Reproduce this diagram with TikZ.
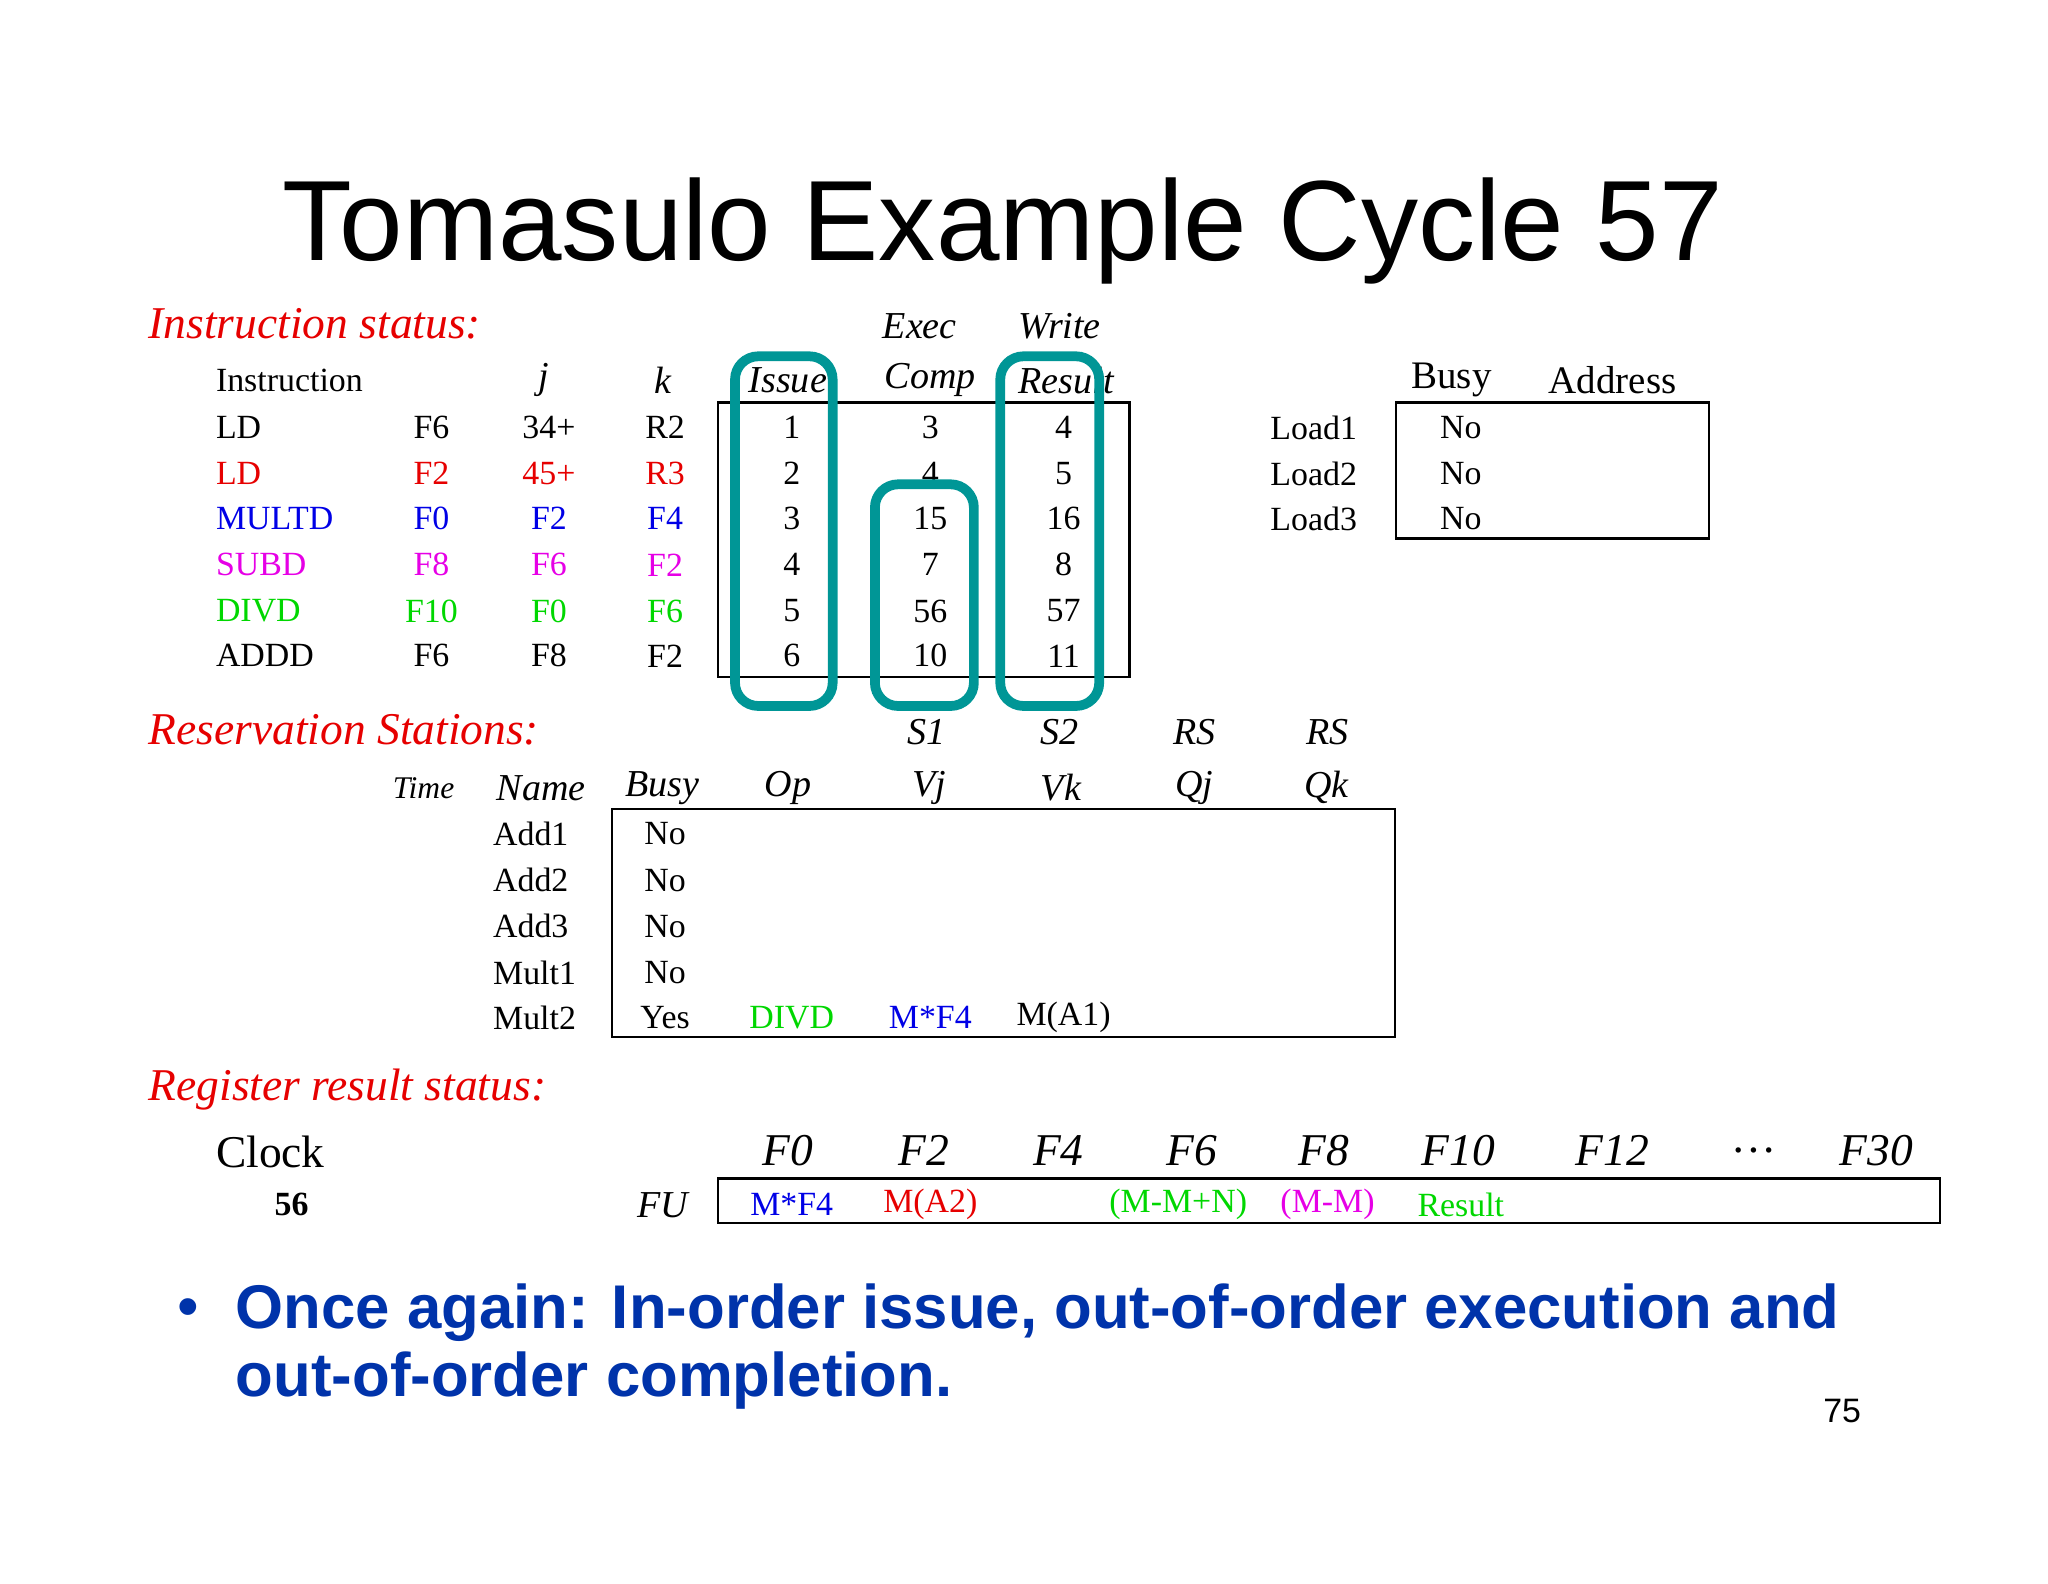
\documentclass[tikz,border=0pt]{standalone}
\usepackage{fontspec}
\setmainfont{Liberation Serif}
\newfontfamily\arialf{Liberation Sans}
\definecolor{rd}{RGB}{230,0,0}
\definecolor{bl}{RGB}{0,0,230}
\definecolor{mg}{RGB}{230,0,230}
\definecolor{gr}{RGB}{0,215,0}
\definecolor{tl}{RGB}{0,150,150}
\definecolor{bb}{RGB}{0,51,170}
\begin{document}
\begin{tikzpicture}[x=0.01cm,y=-0.01cm,
 t/.style={inner sep=0,font=\fontsize{7.3}{8}\selectfont},
 tl/.style={t,anchor=west},
 hd/.style={inner sep=0,font=\fontsize{8.2}{9}\selectfont\itshape},
 sec/.style={inner sep=0,anchor=west,text=rd,font=\fontsize{9.8}{11}\selectfont\itshape},
 big/.style={inner sep=0,font=\fontsize{9.8}{11}\selectfont\itshape},
 tbox/.style={draw,line width=0.5pt},
 hl/.style={draw=tl,line width=2.1pt,rounded corners=5pt}]
\useasboundingbox (0,0) rectangle (1552,1200);
\node[inner sep=0,font=\arialf\fontsize{24.6}{28}\selectfont] (title) at (760,175) {Tomasulo Example Cycle 57};
% instruction status
\node[sec] (is) at (112,245) {Instruction status:};
\node[hd] (ex) at (697,247) {Exec};
\node[hd] (wr) at (803,247) {Write};
\node[tl] (hi) at (163,288) {Instruction};
\node[hd] (hj) at (412,288) {j};
\node[hd] (hk) at (502,288) {k};
\node[hd] (hiss) at (597,288) {Issue};
\node[hd] (hc) at (705,288) {Comp};
\node[hd] (hr) at (808,288) {Result};
\draw[tbox] (544,305) rectangle (856,513);
\foreach \y/\c/\n/\a/\b/\cc/\i/\e/\w in {
 324/black/LD/F6/34+/R2/1/3/4,
 359/rd/LD/F2/45+/R3/2/4/5,
 393/bl/MULTD/F0/F2/F4/3/15/16,
 428/mg/SUBD/F8/F6/F2/4/7/8,
 463/gr/DIVD/F10/F0/F6/5/56/57,
 497/black/ADDD/F6/F8/F2/6/10/11}{
 \node[tl,text=\c] at (163,\y) {\n};
 \node[t,text=\c] at (327,\y) {\a};
 \node[t,text=\c] at (416,\y) {\b};
 \node[t,text=\c] at (504,\y) {\cc};
 \node[t] at (600,\y) {\i};
 \node[t] at (705,\y) {\e};
 \node[t] at (806,\y) {\w};
}
\draw[hl] (557,270) rectangle (631,535);
\draw[hl] (663,367) rectangle (738,535);
\draw[hl] (758,270) rectangle (833,535);
% loads
\node[inner sep=0,font=\fontsize{8.4}{9}\selectfont] (lb) at (1100,288) {Busy};
\node[inner sep=0,font=\fontsize{8.4}{9}\selectfont] (la) at (1222,288) {Address};
\draw[tbox] (1058,305) rectangle (1295,408);
\foreach \y/\n in {324/1,359/2,393/3}{
 \node[tl] at (962,\y) {Load\n};
 \node[t] at (1107,\y) {No};
}
% reservation stations
\node[sec] (rs) at (112,553) {Reservation Stations:};
\foreach \x/\s in {702/S1,803/S2,905/RS,1006/RS}{\node[hd] at (\x,555) {\s};}
\node[inner sep=0,font=\fontsize{6.8}{8}\selectfont\itshape] at (321,597) {Time};
\node[hd] at (410,597) {Name};
\foreach \x/\s in {502/Busy,597/Op,704/Vj,804/Vk,905/Qj,1005/Qk}{\node[hd] at (\x,597) {\s};}
\draw[tbox] (464,613) rectangle (1057,786);
\foreach \y/\n in {632/Add1,667/Add2,702/Add3,737/Mult1}{
 \node[tl] at (373,\y) {\n};
 \node[t] at (504,\y) {No};
}
\node[tl] at (373,771) {Mult2};
\node[t] at (504,771) {Yes};
\node[t,text=gr] at (600,771) {DIVD};
\node[t,text=bl] at (705,771) {M*F4};
\node[t] at (806,771) {M(A1)};
% register result status
\node[sec] (rr) at (112,826) {Register result status:};
\node[inner sep=0,anchor=west,font=\fontsize{9.8}{11}\selectfont] at (163,873) {Clock};
\foreach \x/\s in {597/F0,700/F2,802/F4,903/F6,1003/F8,1105/F10,1222/F12,1422/F30}{\node[big] at (\x,872) {\s};}
\node[big] (dots) at (1330,872) {\ldots};
\node[t,font=\fontsize{7.3}{8}\selectfont\bfseries] at (221,913) {56};
\node[hd] at (502,913) {FU};
\draw[tbox] (544,893) rectangle (1470,927);
\node[t,text=bl] at (600,913) {M*F4};
\node[t,text=rd] at (705,913) {M(A2)};
\begin{scope}
\clip (830,895) rectangle (960,925);
\node[tl,text=gr] at (840,913) {(M-M+N)};
\end{scope}
\node[t,text=mg] at (1006,913) {(M-M)};
\node[t,text=gr] at (1107,913) {Result};
% bullet
\node[inner sep=0,text=bb,font=\arialf\fontsize{13.3}{16}\selectfont] at (143,995) {•};
\node[inner sep=0,anchor=west,text=bb,font=\arialf\bfseries\fontsize{13.3}{16}\selectfont] at (178,995) {Once again: In-order issue, out-of-order execution and};
\node[inner sep=0,anchor=west,text=bb,font=\arialf\bfseries\fontsize{13.3}{16}\selectfont] at (178,1046) {out-of-order completion.};
\node[inner sep=0,font=\arialf\fontsize{7.3}{8}\selectfont] at (1396,1069) {75};
\end{tikzpicture}
\end{document}
